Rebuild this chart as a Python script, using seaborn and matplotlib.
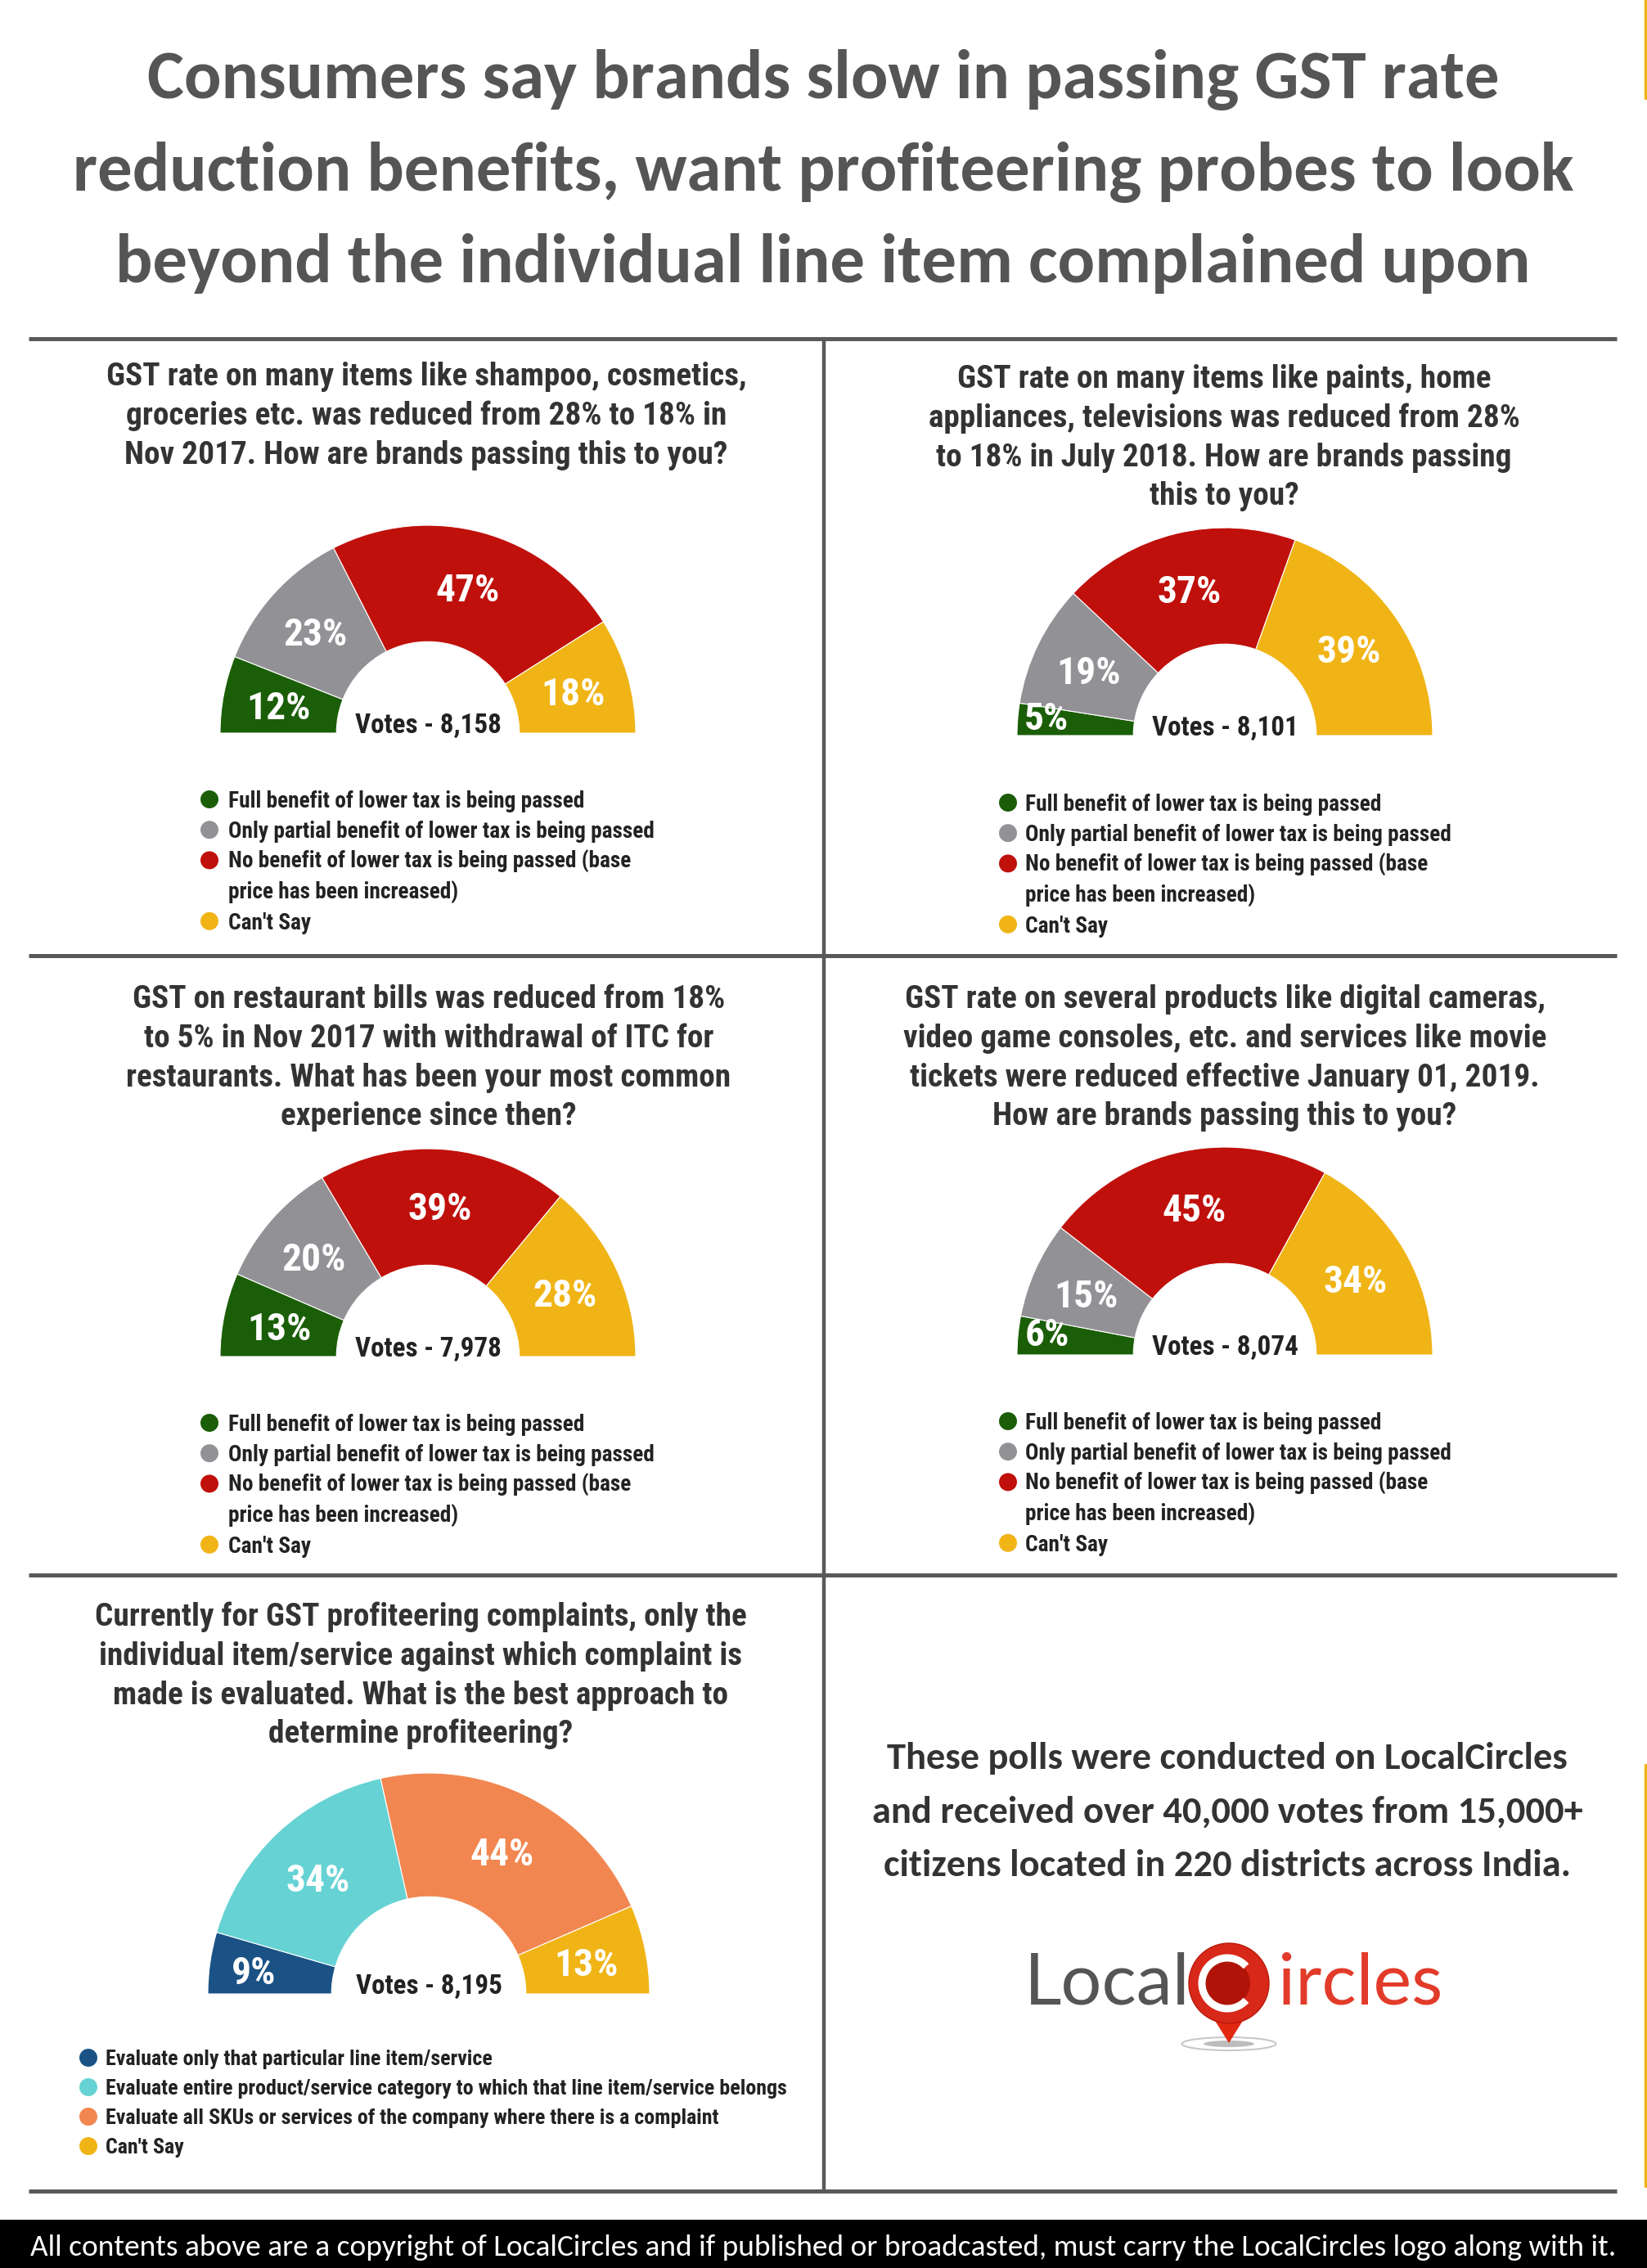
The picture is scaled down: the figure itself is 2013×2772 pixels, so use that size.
import os
import matplotlib
matplotlib.use("Agg")
import matplotlib.pyplot as plt
import seaborn as sns
import numpy as np
from matplotlib import font_manager as fm
from matplotlib.textpath import TextPath
from matplotlib.patches import Rectangle, Circle, Ellipse, Polygon, Arc

W, H, DPI = 2013, 2772, 100

# ---------------- data ----------------
title_lines = [
    "Consumers say brands slow in passing GST rate",
    "reduction benefits, want profiteering probes to look",
    "beyond the individual line item complained upon",
]

gst_choices = [
    "Full benefit of lower tax is being passed",
    "Only partial benefit of lower tax is being passed",
    "No benefit of lower tax is being passed (base\nprice has been increased)",
    "Can't Say",
]
probe_choices = [
    "Evaluate only that particular line item/service",
    "Evaluate entire product/service category to which that line item/service belongs",
    "Evaluate all SKUs or services of the company where there is a complaint",
    "Can't Say",
]

q_nov17 = ["GST rate on many items like shampoo, cosmetics,",
           "groceries etc. was reduced from 28% to 18% in",
           "Nov 2017. How are brands passing this to you?"]
q_jul18 = ["GST rate on many items like paints, home",
           "appliances, televisions was reduced from 28%",
           "to 18% in July 2018. How are brands passing",
           "this to you?"]
q_restaurant = ["GST on restaurant bills was reduced from 18%",
                "to 5% in Nov 2017 with withdrawal of ITC for",
                "restaurants. What has been your most common",
                "experience since then?"]
q_jan19 = ["GST rate on several products like digital cameras,",
           "video game consoles, etc. and services like movie",
           "tickets were reduced effective January 01, 2019.",
           "How are brands passing this to you?"]
q_probe = ["Currently for GST profiteering complaints, only the",
           "individual item/service against which complaint is",
           "made is evaluated. What is the best approach to",
           "determine profiteering?"]

pct_nov17 = [12, 23, 47, 18]
pct_jul18 = [5, 19, 37, 39]
pct_restaurant = [13, 20, 39, 28]
pct_jan19 = [6, 15, 45, 34]
pct_probe = [9, 34, 44, 13]

votes_nov17 = "8,158"
votes_jul18 = "8,101"
votes_restaurant = "7,978"
votes_jan19 = "8,074"
votes_probe = "8,195"

side_note = ["These polls were conducted on LocalCircles",
             "and received over 40,000 votes from 15,000+",
             "citizens located in 220 districts across India."]
footer = ("All contents above are a copyright of LocalCircles and if published "
          "or broadcasted, must carry the LocalCircles logo along with it.")

gst_colors = sns.color_palette(["#1b5e08", "#929296", "#c0100c", "#f0b416"])
probe_colors = sns.color_palette(["#1a5285", "#66d2d4", "#f28650", "#f0b416"])

# ---------------- fonts ----------------
sns.set_theme(style="white")
plt.rcParams["font.family"] = ["DejaVu Sans"]

_files = {os.path.basename(f.fname).lower(): f.fname for f in fm.fontManager.ttflist}


def pick(names, family="DejaVu Sans", weight="bold"):
    for n in names:
        if n.lower() in _files:
            return fm.FontProperties(fname=_files[n.lower()])
    return fm.FontProperties(family=family, weight=weight)


cond_bold = pick(["RobotoCondensed-Bold.ttf", "LiberationSansNarrow-Bold.ttf",
                  "DejaVuSansCondensed-Bold.ttf", "OpenSans_Condensed-Bold.ttf",
                  "OpenSans-CondBold.ttf", "Roboto-Bold.ttf"])
head_bold = pick(["Carlito-Bold.ttf", "Lato-Bold.ttf", "OpenSans-Bold.ttf"])
body_reg = pick(["Carlito-Regular.ttf", "Lato-Regular.ttf", "OpenSans-Regular.ttf"],
                weight="normal")
logo_font = pick(["Lato-Regular.ttf", "OpenSans-Regular.ttf", "Lato-Light.ttf"],
                 weight="normal")


def fit(text, fp, px):
    w = TextPath((0, 0), text, size=100, prop=fp).get_extents().width
    return 100 * px / w * 72 / DPI


def sized(fp, s):
    p = fp.copy()
    p.set_size(s)
    return p


q_size = fit(q_nov17[0], cond_bold, 780)
leg_size = fit(gst_choices[1], cond_bold, 520)
leg5_size = fit(probe_choices[1], cond_bold, 829)
votes_size = fit("Votes - " + votes_nov17, cond_bold, 177)
cap0 = TextPath((0, 0), "0", size=100, prop=cond_bold).get_extents().height
pct_size = 1.1 * np.sqrt(fit("47%", cond_bold, 67) * (100 * 32 / cap0 * 72 / DPI))
title_size = fit(title_lines[0], head_bold, 1649)
note_size = fit(side_note[1], head_bold, 868)
foot_size = fit(footer, body_reg, 1937)

# ---------------- figure ----------------
fig = plt.figure(figsize=(W / DPI, H / DPI), dpi=DPI, facecolor="white")
bg = fig.add_axes([0, 0, 1, 1])
bg.set_xlim(0, W)
bg.set_ylim(H, 0)
bg.axis("off")

for k, line in enumerate(title_lines):
    bg.text(1006, 120 + k * 112.5, line, ha="center", va="baseline",
            color="#555555", fontproperties=sized(head_bold, title_size))

# panel frame
grid = "#595959"
for y in [414, 1168, 1925, 2678]:
    bg.plot([35, 1976], [y, y], color=grid, lw=3.6, solid_capstyle="butt")
bg.plot([1007, 1007], [414, 2678], color=grid, lw=3.2)
bg.plot([2011, 2011], [0, 120], color="#f0b414", lw=2.5)
bg.plot([2011, 2011], [2157, 2672], color="#f0b414", lw=2.5)


def donut(cx, cy, r, values, colors, votes):
    ax = fig.add_axes([(cx - r) / W, 1 - (cy + r) / H, 2 * r / W, 2 * r / H])
    wedges, _ = ax.pie(values + [sum(values)], colors=list(colors) + ["white"],
                       startangle=180, counterclock=False, radius=1,
                       wedgeprops=dict(width=0.56, edgecolor="white", linewidth=0.8))
    wedges[-1].set_visible(False)
    for wdg, v in zip(wedges[:-1], values):
        mid = np.deg2rad((wdg.theta1 + wdg.theta2) / 2)
        rr = 0.86 if v < 7 else (0.8 if v < 10 else 0.73)
        dy = 0.012 if v < 7 else -0.02
        ax.text(rr * np.cos(mid), rr * np.sin(mid) + dy, f"{v}%", ha="center",
                va="center", color="white", fontproperties=sized(cond_bold, pct_size))
    ax.text(0, 0.0, "Votes - " + votes, ha="center", va="baseline", color="#222222",
            fontproperties=sized(cond_bold, votes_size))
    ax.set_xlim(-1, 1)
    ax.set_ylim(-1, 1)
    ax.axis("off")
    return ax


def question(cx, y0, lines):
    for k, line in enumerate(lines):
        bg.text(cx, y0 + k * 47.8, line, ha="center", va="baseline", color="#333333",
                fontproperties=sized(cond_bold, q_size))


def legend(xm, xt, y0, step, labels, colors, size):
    row = 0
    for lab, col in zip(labels, colors):
        y = y0 + row * step
        bg.scatter([xm], [y], s=250, color=col, edgecolors="none")
        parts = lab.split("\n")
        for k, part in enumerate(parts):
            bg.text(xt, y + k * step + 0.36 * size * DPI / 72, part, ha="left",
                    va="baseline", color="#222222", fontproperties=sized(cond_bold, size))
        row += len(parts)


# panel 1
question(521, 471, q_nov17)
donut(523, 896, 254, pct_nov17, gst_colors, votes_nov17)
legend(256, 279, 977, 37.2, gst_choices, gst_colors, leg_size)

# panel 2
question(1496, 474, q_jul18)
donut(1497, 899, 254, pct_jul18, gst_colors, votes_jul18)
legend(1232, 1253, 981, 37.2, gst_choices, gst_colors, leg_size)

# panel 3
question(524, 1232, q_restaurant)
donut(523, 1658, 254, pct_restaurant, gst_colors, votes_restaurant)
legend(256, 279, 1739, 37.2, gst_choices, gst_colors, leg_size)

# panel 4
question(1497, 1232, q_jan19)
donut(1497, 1656, 254, pct_jan19, gst_colors, votes_jan19)
legend(1232, 1253, 1737, 37.2, gst_choices, gst_colors, leg_size)

# panel 5
question(514, 1987, q_probe)
donut(524, 2437, 270, pct_probe, probe_colors, votes_probe)
legend(108, 129, 2515, 36.0, probe_choices, probe_colors, leg5_size)

# side note
for k, line in enumerate(side_note):
    bg.text(1500, 2162 + k * 65.5, line, ha="center", va="baseline", color="#333333",
            fontproperties=sized(head_bold, note_size))

# logo
logo_size = fit("Local", logo_font, 188)
bg.text(1252, 2449, "Local", ha="left", va="baseline", color="#555555",
        fontproperties=sized(logo_font, logo_size))
bg.text(1562, 2449, "ircles", ha="left", va="baseline", color="#e23b2a",
        fontproperties=sized(logo_font, logo_size))
bg.add_patch(Ellipse((1502, 2498), 115, 16, facecolor="none", edgecolor="#c8c8c8", lw=1.5))
bg.add_patch(Ellipse((1502, 2498), 62, 8, facecolor="#bdbdbd", edgecolor="none"))
bg.add_patch(Polygon([[1479, 2460], [1525, 2460], [1502, 2497]], closed=True,
                     facecolor="#e0290f", edgecolor="none"))
bg.add_patch(Circle((1502, 2424), 49, facecolor="#d8281a", edgecolor="#b81a0c", lw=1))
bg.add_patch(Circle((1500, 2424), 28, facecolor="#b01408", edgecolor="none"))
bg.add_patch(Arc((1500, 2424), 62, 62, theta1=42, theta2=318, color="white", lw=6.5))

# footer
bg.add_patch(Rectangle((0, 2713), W, 59, facecolor="black", edgecolor="none"))
bg.text(1006, 2757, footer, ha="center", va="baseline", color="white",
        fontproperties=sized(body_reg, foot_size))

fig.savefig("out.png", dpi=DPI, facecolor="white")
